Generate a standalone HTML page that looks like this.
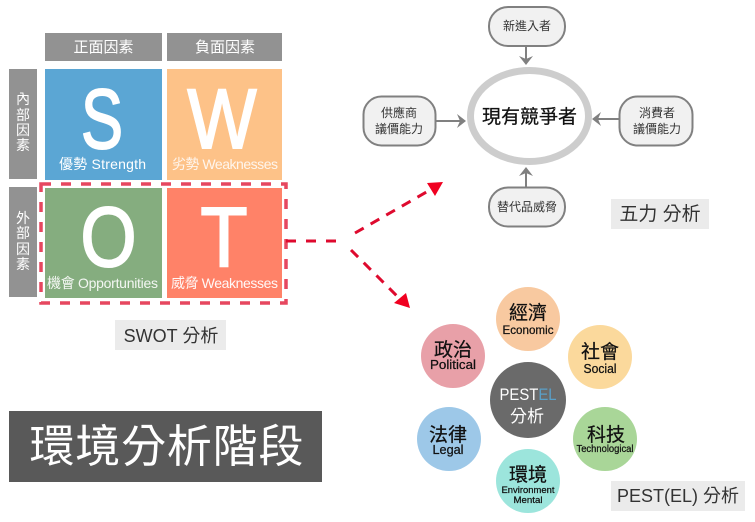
<!DOCTYPE html>
<html>
<head>
<meta charset="utf-8">
<style>
html,body{margin:0;padding:0;background:#fff;width:755px;height:522px;overflow:hidden}
svg{display:block}
text{font-family:"Liberation Sans","Noto Sans CJK TC",sans-serif}
.w{fill:#fff}
.k{fill:#111;stroke:#111;stroke-width:.25}
.d{fill:#333}
.m{text-anchor:middle}
.b{fill:#fff;stroke:#fff;stroke-width:2;text-anchor:middle}
</style>
</head>
<body>
<svg width="755" height="522" viewBox="0 0 755 522" xmlns="http://www.w3.org/2000/svg">
<rect x="45" y="33" width="117" height="28" fill="#929292"/>
<rect x="167" y="33" width="115" height="28" fill="#929292"/>
<rect x="9" y="69" width="28" height="110" fill="#929292"/>
<rect x="9" y="187" width="28" height="110" fill="#929292"/>
<text class="w m" x="103.500" y="52" font-size="15" textLength="60">正面因素</text>
<text class="w m" x="225" y="52" font-size="15" textLength="60">負面因素</text>
<text class="w m" x="23" y="104" font-size="14">內</text><text class="w m" x="23" y="120" font-size="14">部</text><text class="w m" x="23" y="135" font-size="14">因</text><text class="w m" x="23" y="150" font-size="14">素</text>
<text class="w m" x="23" y="223" font-size="14">外</text><text class="w m" x="23" y="238" font-size="14">部</text><text class="w m" x="23" y="254" font-size="14">因</text><text class="w m" x="23" y="269" font-size="14">素</text>
<rect x="45" y="69" width="117" height="111" fill="#5ba6d4"/>
<rect x="167" y="69" width="115" height="111" fill="#fdc288"/>
<rect x="45" y="188" width="117" height="110" fill="#85ad7f"/>
<rect x="167" y="188" width="115" height="110" fill="#ff8268"/>
<text class="b" x="102" y="148" font-size="84" textLength="42" lengthAdjust="spacingAndGlyphs">S</text>
<text class="b" x="222" y="148" font-size="84" textLength="69" lengthAdjust="spacingAndGlyphs">W</text>
<text class="b" x="108.500" y="266" font-size="84" textLength="56" lengthAdjust="spacingAndGlyphs">O</text>
<text class="b" x="224" y="266" font-size="84" textLength="47" lengthAdjust="spacingAndGlyphs">T</text>
<text class="w" x="59" y="169" font-size="14" textLength="87">優勢 Strength</text>
<text class="w" x="172" y="169" font-size="14" textLength="106" opacity=".85">劣勢 Weaknesses</text>
<text class="w" x="47" y="288" font-size="14" textLength="111" opacity=".9">機會 Opportunities</text>
<text class="w" x="171" y="288" font-size="14" textLength="107" opacity=".95">威脅 Weaknesses</text>
<rect x="41" y="184" width="245" height="119" fill="none" stroke="#e6475f" stroke-width="3.500" stroke-dasharray="10 10"/>
<rect x="115" y="320" width="111" height="30" fill="#ebebeb"/>
<text class="d m" x="171" y="342" font-size="18">SWOT 分析</text>

<path d="M286 241 H342" stroke="#de0a2e" stroke-width="3" stroke-dasharray="10 10" fill="none"/>
<path d="M355 233 L430 190" stroke="#de0a2e" stroke-width="3" stroke-dasharray="10 8" fill="none"/>
<path d="M443 182 L427 183 L435 196 Z" fill="#f00020"/>
<path d="M351 250 L400 299" stroke="#de0a2e" stroke-width="3" stroke-dasharray="10 8" fill="none"/>
<path d="M410 308 L394 303 L406 293 Z" fill="#f00020"/>

<ellipse cx="529.500" cy="116" rx="59" ry="45.500" fill="#fff" stroke="#cdcdcd" stroke-width="7"/>
<text class="k m" x="529.500" y="123" font-size="19">現有競爭者</text>
<g stroke="#808080" stroke-width="2" fill="#f1f1f1">
<rect x="489" y="7" width="76" height="39" rx="19"/>
<rect x="363.500" y="96.500" width="72" height="49" rx="18"/>
<rect x="619.500" y="96.500" width="73" height="49" rx="18"/>
<rect x="489" y="187.500" width="76" height="39" rx="19"/>
</g>
<g stroke="#808080" stroke-width="2" fill="none">
<path d="M526 46 V60"/>
<path d="M436 121 H460"/>
<path d="M619 119 H598"/>
<path d="M526 187 V172"/>
</g>
<g fill="#808080">
<path d="M526 65 L519 56 L526 59 L533 56 Z"/>
<path d="M466 121 L457 114 L460 121 L457 128 Z"/>
<path d="M592 119 L601 112 L598 119 L601 126 Z"/>
<path d="M526 167 L519 176 L526 173 L533 176 Z"/>
</g>
<text class="d m" x="527" y="30" font-size="12">新進入者</text>
<text class="d m" x="399" y="117" font-size="12">供應商</text>
<text class="d m" x="399" y="133" font-size="12">議價能力</text>
<text class="d m" x="657" y="117" font-size="12">消費者</text>
<text class="d m" x="657" y="133" font-size="12">議價能力</text>
<text class="d m" x="527" y="211" font-size="12">替代品威脅</text>
<rect x="611" y="199" width="98" height="30" fill="#ebebeb"/>
<text class="d m" x="660" y="220" font-size="19">五力 分析</text>

<circle cx="528" cy="319" r="32" fill="#f8c9a0"/>
<circle cx="453" cy="356" r="32" fill="#e8a0a8"/>
<circle cx="600" cy="357" r="32" fill="#fbd99c"/>
<circle cx="605" cy="439" r="32" fill="#a9d698"/>
<circle cx="449" cy="439" r="32" fill="#9dc8e8"/>
<circle cx="528" cy="481" r="32" fill="#9ce5dc"/>
<circle cx="528" cy="400" r="38" fill="#6a6a6a"/>
<text class="k m" x="528" y="319" font-size="19">經濟</text>
<text class="k m" x="528" y="334" font-size="12" textLength="51" lengthAdjust="spacingAndGlyphs">Economic</text>
<text class="k m" x="453" y="356" font-size="19">政治</text>
<text class="k m" x="453" y="369" font-size="12.500" textLength="46" lengthAdjust="spacingAndGlyphs">Political</text>
<text class="k m" x="600" y="358" font-size="19">社會</text>
<text class="k m" x="600" y="373" font-size="12.500" textLength="33" lengthAdjust="spacingAndGlyphs">Social</text>
<text class="k m" x="606" y="441" font-size="19">科技</text>
<text class="k m" x="605" y="452" font-size="10.500" textLength="57" lengthAdjust="spacingAndGlyphs">Technological</text>
<text class="k m" x="448" y="441" font-size="19">法律</text>
<text class="k m" x="448" y="454" font-size="12.500" textLength="31" lengthAdjust="spacingAndGlyphs">Legal</text>
<text class="k m" x="528" y="481" font-size="19">環境</text>
<text class="k m" x="528" y="493" font-size="9.500" textLength="53" lengthAdjust="spacingAndGlyphs">Environment</text>
<text class="k m" x="528" y="503" font-size="9.500" textLength="29" lengthAdjust="spacingAndGlyphs">Mental</text>
<text class="m" x="528" y="400" font-size="17" fill="#fff" textLength="57" lengthAdjust="spacingAndGlyphs">PEST<tspan fill="#5aa0c8">EL</tspan></text>
<text class="w m" x="527" y="422" font-size="17">分析</text>
<rect x="611" y="481" width="134" height="30" fill="#ebebeb"/>
<text class="d m" x="678" y="502" font-size="18">PEST(EL) 分析</text>

<rect x="9" y="411" width="313" height="71" fill="#595959"/>
<text class="w m" x="166.500" y="462" font-size="45" textLength="274">環境分析階段</text>
</svg>
</body>
</html>
